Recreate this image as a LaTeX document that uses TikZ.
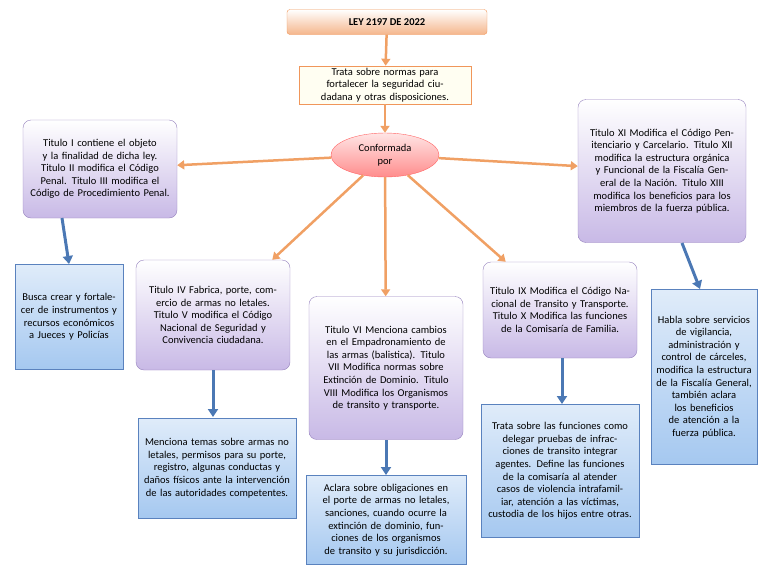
\documentclass[tikz,border=0pt]{standalone}
\usepackage{fontspec}
\setmainfont{Carlito}
\usetikzlibrary{arrows.meta,shapes.geometric}
\definecolor{lila}{RGB}{200,185,230}
\definecolor{lilaborde}{RGB}{150,130,190}
\definecolor{celeste}{RGB}{165,200,240}
\definecolor{azulborde}{RGB}{90,130,190}
\definecolor{naranja}{RGB}{240,150,90}
\definecolor{flecha_n}{RGB}{240,160,100}
\definecolor{flecha_a}{RGB}{75,120,180}
\tikzset{
  caja/.style = {align=center, inner sep=4pt, font=\fontsize{10.5}{12.6}\selectfont},
  caja_l/.style = {caja, rectangle, rounded corners=8pt, draw=lilaborde,
    top color=white, bottom color=lila},% titulos
  caja_a/.style = {caja, rectangle, draw=azulborde,
    top color=celeste!35, bottom color=celeste},% explicaciones
  fl_n/.style = {draw=flecha_n, line width=2.5pt, -{Triangle[width=9pt,length=7pt]}},
  fl_a/.style = {draw=flecha_a, line width=3pt, -{Triangle[width=10pt,length=8pt]}},
}
\begin{document}
\begin{tikzpicture}[x=1pt,y=-1pt]
  \useasboundingbox (0,0) rectangle (768,576);

  \node[caja, rectangle, rounded corners=3pt, draw=naranja, top color=white, bottom color=naranja!70,
    minimum width=200pt, minimum height=25pt, font=\bfseries\fontsize{10.5}{12}\selectfont] (ley) at (387,22) {LEY 2197 DE 2022};
  \node[caja, rectangle, draw=naranja, fill=yellow!5, text width=168pt, inner sep=2pt] (trata) at (385,85)
    {Trata sobre normas para fortalecer la seguridad ciudadana y otras disposiciones.};
  \node[caja, ellipse, draw=red!60, top color=pink!40, bottom color=red!45, minimum width=108pt,
    minimum height=44pt, inner sep=0pt] (conf) at (385,155) {Conformada\\por};

  \node[caja_l, text width=146pt, minimum height=98pt] (t1) at (100,169)
    {Titulo I contiene el objeto y la finalidad de dicha ley. Titulo II modifica el Código Penal. Titulo III modifica el Código de Procedimiento Penal.};
  \node[caja_l, text width=160pt, minimum height=143pt] (t11) at (662,171)
    {Titulo XI Modifica el Código Penitenciario y Carcelario. Titulo XII modifica la estructura orgánica y Funcional de la Fiscalía General de la Nación. Titulo XIII modifica los beneficios para los miembros de la fuerza pública.};
  \node[caja_l, text width=146pt, minimum height=110pt] (t4) at (213,315)
    {Titulo IV Fabrica, porte, comercio de armas no letales. Titulo V modifica el Código Nacional de Seguridad y Convivencia ciudadana.};
  \node[caja_l, text width=146pt, minimum height=143pt] (t6) at (386,368)
    {Titulo VI Menciona cambios en el Empadronamiento de las armas (balistica). Titulo VII Modifica normas sobre Extinción de Dominio. Titulo VIII Modifica los Organismos de transito y transporte.};
  \node[caja_l, text width=146pt, minimum height=96pt] (t9) at (560,310)
    {Titulo IX Modifica el Código Nacional de Transito y Transporte. Titulo X Modifica las funciones de la Comisaría de Familia.};

  \node[caja_a, text width=100pt, minimum height=105pt] (a1) at (69,317)
    {Busca crear y fortalecer de instrumentos y recursos económicos a Jueces y Policías};
  \node[caja_a, text width=150pt, minimum height=100pt] (a4) at (217,468)
    {Menciona temas sobre armas no letales, permisos para su porte, registro, algunas conductas y daños físicos ante la intervención de las autoridades competentes.};
  \node[caja_a, text width=152pt, minimum height=89pt] (a6) at (386,520)
    {Aclara sobre obligaciones en el porte de armas no letales, sanciones, cuando ocurre la extinción de dominio, funciones de los organismos de transito y su jurisdicción.};
  \node[caja_a, text width=150pt, minimum height=133pt] (a9) at (560,471)
    {Trata sobre las funciones como delegar pruebas de infracciones de transito integrar agentes. Define las funciones de la comisaría al atender casos de violencia intrafamiliar, atención a las víctimas, custodia de los hijos entre otras.};
  \node[caja_a, text width=98pt, minimum height=175pt] (a11) at (704,377)
    {Habla sobre servicios de vigilancia, administración y control de cárceles, modifica la estructura de la Fiscalía General, también aclara los beneficios de atención a la fuerza pública.};

  \coordinate (s1) at (62,218);  \coordinate (e1) at (69,264);
  \coordinate (s4) at (213,370); \coordinate (e4) at (213,417);
  \coordinate (s6) at (386,440); \coordinate (e6) at (386,475);
  \coordinate (s9) at (562,358); \coordinate (e9) at (562,404);
  \coordinate (s11) at (682,243); \coordinate (e11) at (700,289);

  % flechas naranja
  \draw[fl_n] (ley) -- (trata);
  \draw[fl_n] (trata) -- (conf);
  \draw[fl_n] (conf) -- (t1);
  \draw[fl_n] (conf) -- (t11);
  \draw[fl_n] (conf) -- (t4);
  \draw[fl_n] (conf) -- (t6);
  \draw[fl_n] (conf) -- (t9);
  % flechas azules
  \draw[fl_a] (s1) -- (e1);
  \draw[fl_a] (s4) -- (e4);
  \draw[fl_a] (s6) -- (e6);
  \draw[fl_a] (s9) -- (e9);
  \draw[fl_a] (s11) -- (e11);
\end{tikzpicture}
\end{document}
